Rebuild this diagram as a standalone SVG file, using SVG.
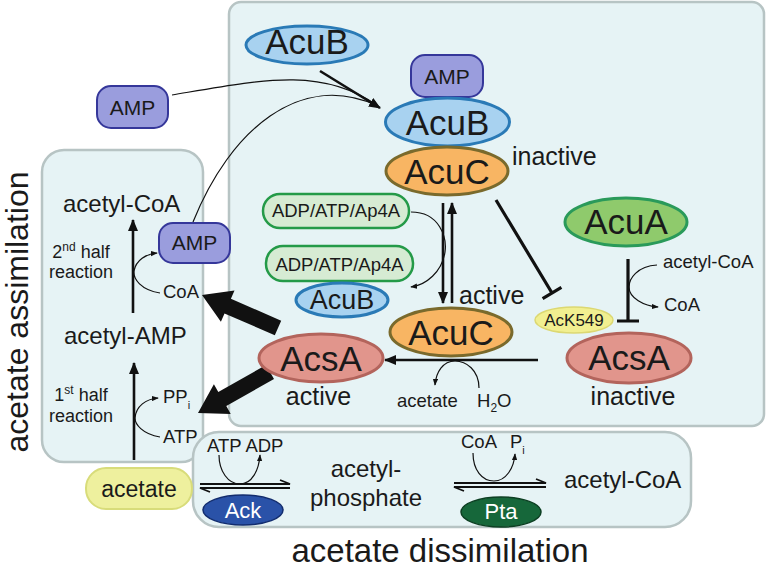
<svg xmlns="http://www.w3.org/2000/svg" width="768" height="570" viewBox="0 0 768 570">
<defs>
<style>
text{font-family:"Liberation Sans",Arial,sans-serif;fill:#1a1a1a}
.box{fill:#e6f3f5;stroke:#b7c4c4;stroke-width:2.5}
.big{font-size:35px;text-anchor:middle}
.amp{fill:#9a9ddd;stroke:#35379a;stroke-width:2}
.amp-t{font-size:21px;text-anchor:middle}
.acub{fill:#a8d2f0;stroke:#2a7ab6;stroke-width:3}
.acuc{fill:#f8b563;stroke:#7a6a2c;stroke-width:3}
.acsa{fill:#e1958c;stroke:#b3645c;stroke-width:3}
.acua{fill:#8fca6c;stroke:#2a9a5a;stroke-width:3}
.adp{fill:#d6ebd3;stroke:#249a48;stroke-width:2.5}
.lbl{font-size:25px}
.sm{font-size:18.5px}
.md{font-size:24px}
.thick{stroke:#111;stroke-width:2.6;fill:none}
.thin{stroke:#111;stroke-width:1.2;fill:none}
.inh{stroke:#111;stroke-width:3.2;fill:none}
</style>
<marker id="ah" viewBox="0 0 12 10" refX="11" refY="5" markerWidth="12" markerHeight="10" markerUnits="userSpaceOnUse" orient="auto"><path d="M0,0 L12,5 L0,10 z" fill="#111"/></marker>
<marker id="as" viewBox="0 0 8 6" refX="7" refY="3" markerWidth="7" markerHeight="6" markerUnits="userSpaceOnUse" orient="auto"><path d="M0,0 L8,3 L0,6 z" fill="#111"/></marker>
</defs>

<g id="regions">
<rect class="box" x="229" y="2" width="535" height="424" rx="12"/>
<rect class="box" x="42" y="150" width="161" height="312" rx="22"/>
<rect class="box" x="193" y="432" width="498" height="95" rx="26"/>
</g>

<g id="connectors">
<path class="thin" d="M172,95 C260,80 322,66 378,106" marker-end="url(#as)"/>
<path class="thin" d="M193,222 C230,130 300,70 378,106"/>
<path class="thick" d="M320,71 L380,108" marker-end="url(#ah)"/>
<path class="thick" d="M443,203 L443,303" marker-end="url(#ah)"/>
<path class="thick" d="M452,303 L452,203" marker-end="url(#ah)"/>
<path class="thin" d="M411,212 C440,212 447,238 445,252 C442,272 426,285 411,287" marker-end="url(#as)"/>
<path class="thick" d="M538,360 L385,360" marker-end="url(#ah)"/>
<path class="thin" d="M479,388 C479,370 466,361 455,361 C443,361 436,372 435,385" marker-end="url(#as)"/>
<path class="inh" d="M496,200 L552,293 M542.6,298.7 L561.4,287.3"/>
<path class="inh" d="M628,259 L628,321 M617,321 L639,321"/>
<path class="thin" d="M657,265 C637,266 629,279 629,287 C629,298 644,306 658,307" marker-end="url(#as)"/>
<path class="thick" d="M133,313 L133,220" marker-end="url(#ah)"/>
<path class="thick" d="M134,460 L134,363" marker-end="url(#ah)"/>
<path class="thin" d="M160,293 C141,290 133,279 134,271 C136,260 146,254 157,253" marker-end="url(#as)"/>
<path class="thin" d="M160,437 C142,434 135,424 135,418 C136,406 146,399 158,398" marker-end="url(#as)"/>
<polygon fill="#111" points="281.2,320.7 230.9,298.8 234.5,290.5 202,295 220.9,321.7 224.5,313.4 274.8,335.3"/>
<polygon fill="#111" points="266,365 218.3,392.1 213.9,384.3 198,413 230.7,413.9 226.3,406.1 274,379"/>
<path class="thin" d="M219,455 C219,471 228,484 240,484 C252,484 259,470 260,455" marker-end="url(#as)"/>
<path class="thin" d="M473,453 C473,470 482,481 494,481 C506,481 514,468 515,454" marker-end="url(#as)"/>
<path stroke="#111" stroke-width="1.8" fill="none" d="M200,484 L290,484 L280,480 M290,488 L200,488 L210,492"/>
<path stroke="#111" stroke-width="1.8" fill="none" d="M454,483 L546,483 L536,479 M546,487 L454,487 L464,491"/>
</g>

<g id="acub-free"><ellipse class="acub" cx="307" cy="45" rx="61" ry="19"/><text class="big" x="307" y="54">AcuB</text></g>
<g id="amp-free"><rect class="amp" x="97" y="86" width="71" height="42" rx="14"/><text class="amp-t" x="132.5" y="115">AMP</text></g>
<g id="amp-bound"><rect class="amp" x="411" y="55" width="72" height="42" rx="14"/><text class="amp-t" x="447" y="84">AMP</text></g>
<g id="acub-bound"><ellipse class="acub" cx="447.5" cy="122" rx="62" ry="24"/><text class="big" x="447.5" y="135">AcuB</text></g>
<g id="acuc-inactive"><ellipse class="acuc" cx="447" cy="171" rx="61" ry="24"/><text class="big" x="447" y="184">AcuC</text><text class="lbl" x="512" y="165">inactive</text></g>
<g id="acua"><ellipse class="acua" cx="626" cy="222" rx="61" ry="24"/><text class="big" x="626" y="234">AcuA</text></g>
<g id="adp1"><rect class="adp" x="263" y="194" width="146" height="34" rx="17"/><text class="sm" x="336" y="217" text-anchor="middle">ADP/ATP/Ap4A</text></g>
<g id="adp2"><rect class="adp" x="266" y="246" width="147" height="35" rx="17"/><text class="sm" x="339.5" y="271" text-anchor="middle">ADP/ATP/Ap4A</text></g>
<g id="acub-small"><ellipse class="acub" cx="342" cy="300" rx="46" ry="17" stroke-width="2.5"/><text x="342" y="309" font-size="27" text-anchor="middle">AcuB</text></g>
<g id="acuc-active"><ellipse class="acuc" cx="451" cy="332" rx="61" ry="24"/><text class="big" x="451" y="345">AcuC</text><text class="lbl" x="459" y="304">active</text></g>
<g id="acsa-active"><ellipse class="acsa" cx="321" cy="358" rx="62" ry="24"/><text class="big" x="321" y="371">AcsA</text><text class="lbl" x="318.5" y="405" text-anchor="middle">active</text></g>
<g id="ack549"><ellipse cx="574" cy="320" rx="39" ry="13" fill="#f1ef90" stroke="#dcd872" stroke-width="1.5"/><text x="574" y="326" font-size="17" text-anchor="middle">AcK549</text></g>
<g id="acsa-inactive"><ellipse class="acsa" cx="629" cy="358" rx="62" ry="25"/><text class="big" x="629" y="370">AcsA</text><text class="lbl" x="633" y="405" text-anchor="middle">inactive</text></g>
<g id="deacetylation-labels"><text class="sm" x="397" y="407">acetate</text><text class="sm" x="477" y="407">H<tspan font-size="12" dy="5">2</tspan><tspan dy="-5">O</tspan></text></g>
<g id="acua-labels"><text class="sm" x="663" y="268">acetyl-CoA</text><text class="sm" x="664" y="311">CoA</text></g>

<g id="assimilation">
<text class="md" x="63" y="212">acetyl-CoA</text>
<rect class="amp" x="159" y="223" width="71" height="40" rx="14"/><text class="amp-t" x="194.5" y="250">AMP</text>
<text x="81" y="258" font-size="18" text-anchor="middle">2<tspan font-size="12" dy="-7">nd</tspan><tspan dy="7"> half</tspan></text>
<text x="81" y="278" font-size="18" text-anchor="middle">reaction</text>
<text class="sm" x="163" y="298">CoA</text>
<text class="md" x="64" y="344">acetyl-AMP</text>
<text x="81" y="401" font-size="18" text-anchor="middle">1<tspan font-size="12" dy="-7">st</tspan><tspan dy="7"> half</tspan></text>
<text x="81" y="422" font-size="18" text-anchor="middle">reaction</text>
<text class="sm" x="163" y="403">PP<tspan font-size="11" dy="6">i</tspan></text>
<text class="sm" x="163" y="443">ATP</text>
</g>

<g id="acetate"><rect x="86" y="468" width="106" height="41" rx="20" fill="#eef09e" stroke="#d8dc7a" stroke-width="2"/><text x="139" y="497" font-size="23" text-anchor="middle">acetate</text></g>
<g id="ack"><ellipse cx="243" cy="510" rx="40" ry="15" fill="#2a52a8" stroke="#122c6e" stroke-width="1.5"/><text x="243" y="518" font-size="22" text-anchor="middle" style="fill:#fff">Ack</text></g>
<g id="pta"><ellipse cx="501" cy="512" rx="40" ry="15" fill="#16673a" stroke="#0c3f22" stroke-width="1.5"/><text x="501" y="519" font-size="22" text-anchor="middle" style="fill:#fff">Pta</text></g>
<g id="dissimilation-labels">
<text class="sm" x="207" y="452">ATP ADP</text>
<text class="md" x="366" y="477" text-anchor="middle">acetyl-</text>
<text class="md" x="366" y="506" text-anchor="middle">phosphate</text>
<text class="sm" x="461" y="448">CoA</text>
<text class="sm" x="510" y="448">P<tspan font-size="11" dy="6">i</tspan></text>
<text class="md" x="564" y="488">acetyl-CoA</text>
</g>

<g id="titles">
<text x="440" y="562" font-size="33" text-anchor="middle">acetate dissimilation</text>
<text x="0" y="0" font-size="32" text-anchor="middle" transform="translate(28,312) rotate(-90)">acetate assimilation</text>
</g>
</svg>
